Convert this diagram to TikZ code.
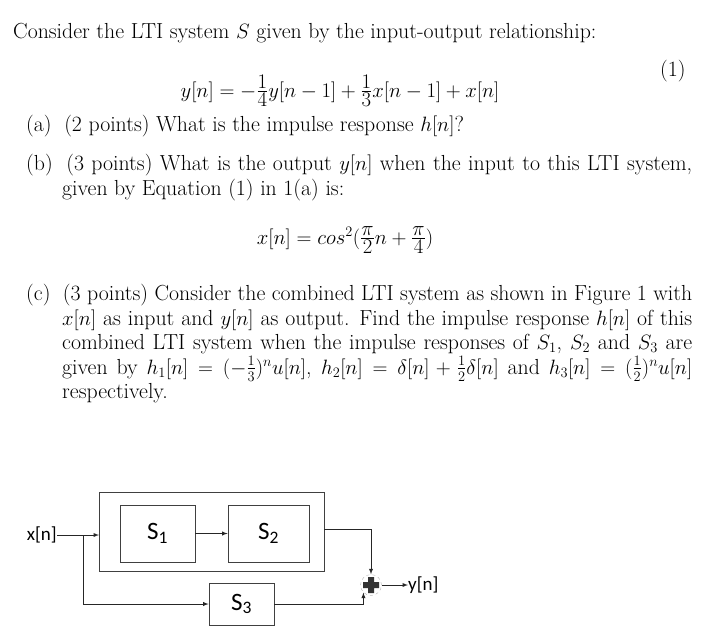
\documentclass[tikz,border=0pt]{standalone}
\usepackage{amsmath}
\usepackage{fontspec}
\newfontfamily\diag{Carlito}
\newcommand{\mfr}[2]{\frac{\textstyle #1}{\textstyle #2}}
\begin{document}
\begin{tikzpicture}[x=1pt,y=-1pt,
  txt/.style={anchor=base west,inner sep=0pt,font=\fontsize{21.8}{26}\selectfont},
  blk/.style={draw=black!75,line width=0.8pt},
  wire/.style={draw=black!85,line width=0.9pt},
  arr/.style={wire,-latex},
  lab/.style={font=\diag\fontsize{19}{22}\selectfont,inner sep=0pt}]
\useasboundingbox (0,0) rectangle (703,629);
% text
\node[txt] (t1) at (13,38) {Consider the LTI system $S$ given by the input-output relationship:};
\node[txt,anchor=base] (eq) at (340,97) {$y[n]=-\mfr{1}{4}y[n-1]+\mfr{1}{3}x[n-1]+x[n]$};
\node[txt] (eqn) at (660,76) {(1)};
\node[txt] (ta) at (26,131) {(a)\; (2 points) What is the impulse response $h[n]$?};
\node[txt] (tb1) at (26,170) {\makebox[666pt][s]{(b)\; (3 points) What is the output $y[n]$ when the input to this LTI system,}};
\node[txt] (tb2) at (62,195) {given by Equation (1) in 1(a) is:};
\node[txt,anchor=base] (fx) at (345,244) {$x[n]=cos^2(\mfr{\pi}{2}n+\mfr{\pi}{4})$};
\node[txt] (tc1) at (26,300) {\makebox[666pt][s]{(c)\; (3 points) Consider the combined LTI system as shown in Figure 1 with}};
\node[txt] (tc2) at (62,325) {\makebox[630pt][s]{$x[n]$ as input and $y[n]$ as output. Find the impulse response $h[n]$ of this}};
\node[txt] (tc3) at (62,349) {\makebox[630pt][s]{combined LTI system when the impulse responses of $S_1$, $S_2$ and $S_3$ are}};
\node[txt] (tc4) at (62,374) {\makebox[630pt][s]{given by $h_1[n]=(-\frac13)^nu[n]$, $h_2[n]=\delta[n]+\frac12\delta[n]$ and $h_3[n]=(\frac12)^nu[n]$}};
\node[txt] (tc5) at (62,398) {respectively.};
% diagram
\draw[blk] (99,492) rectangle (324,571);
\node[blk,minimum width=75pt,minimum height=57pt,inner sep=0pt] (s1) at (157.5,533.5) {};
\node[blk,minimum width=81pt,minimum height=57pt,inner sep=0pt] (s2) at (268.5,533.5) {};
\node[blk,minimum width=65pt,minimum height=42pt,inner sep=0pt] (s3) at (241.5,604) {};
\node[lab,font=\diag\fontsize{25}{28}\selectfont] at (s1) {S\textsubscript{1}};
\node[lab,font=\diag\fontsize{25}{28}\selectfont] at (s2) {S\textsubscript{2}};
\node[lab,font=\diag\fontsize{25}{28}\selectfont] at (s3) {S\textsubscript{3}};
\node[lab,anchor=east] (xn) at (57,535) {x[n]};
\node[lab,anchor=west] (yn) at (408,585) {y[n]};
\node[circle,draw=black!30,dashed,minimum size=21pt,inner sep=0pt] (sum) at (371,585) {};
\fill[black!80] (368,577) rectangle (374,593) (363,582) rectangle (379,588);
\coordinate (br) at (83,535);
\draw[arr] (xn.east) -- (99,535);
\draw[arr] (br) |- (s3.west);
\draw[arr] (s1.east) -- (s2.west);
\draw[arr] (324,529) -| (sum.north);
\draw[arr] (s3.east) -| (sum.south west);
\draw[arr] (sum.east) -- (yn.west);
\end{tikzpicture}
\end{document}
